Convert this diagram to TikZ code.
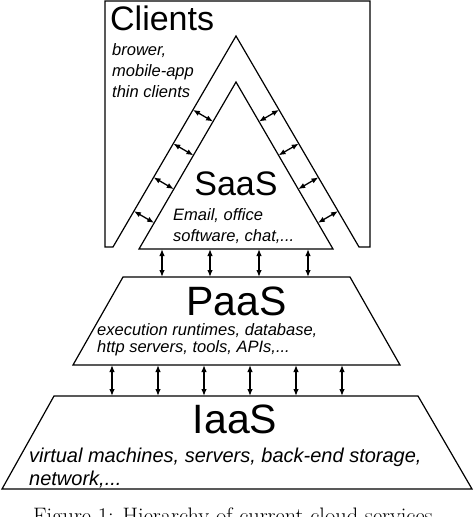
\documentclass[tikz,border=0pt]{standalone}
\usepackage{fontspec}
\newfontfamily\arial{Liberation Sans}
\usetikzlibrary{calc,arrows.meta}
\begin{document}
\begin{tikzpicture}[x=1pt,y=-1pt,
  shapeline/.style={draw=black,line width=1.2pt},
  dbl/.style={{Latex[length=7pt,width=5.5pt]}-{Latex[length=7pt,width=5.5pt]},line width=1.3pt},
  bigtitle/.style={inner sep=0pt,font=\arial\fontsize{#1}{#1}\selectfont},
  smalltxt/.style={inner sep=0pt,anchor=base west,font=\arial\itshape\fontsize{#1}{#1}\selectfont}]
\useasboundingbox (0,0) rectangle (474,517);
% Clients frame
\coordinate (cTL) at (105,1);
\coordinate (cTR) at (370,1);
\coordinate (cBR) at (370,247);
\coordinate (oR) at (359,247);
\coordinate (oA) at (236,36);
\coordinate (oL) at (113,247);
\coordinate (cBL) at (105,247);
\draw[shapeline] (cTL) -- (cTR) -- (cBR) -- (oR) -- (oA) -- (oL) -- (cBL) -- cycle;
% SaaS triangle
\coordinate (iL) at (139,249);
\coordinate (iA) at (236,82);
\coordinate (iR) at (333,249);
\draw[shapeline] (iL) -- (iA) -- (iR) -- cycle;
% PaaS trapezoid
\coordinate (pTL) at (123,277);
\coordinate (pTR) at (350,277);
\coordinate (pBR) at (400,365);
\coordinate (pBL) at (73,365);
\draw[shapeline] (pTL) -- (pTR) -- (pBR) -- (pBL) -- cycle;
% IaaS trapezoid
\coordinate (aTL) at (54,396);
\coordinate (aTR) at (418,396);
\coordinate (aBR) at (472,489);
\coordinate (aBL) at (2,489);
\draw[shapeline] (aTL) -- (aTR) -- (aBR) -- (aBL) -- cycle;
% texts
\node[bigtitle=34pt,anchor=base west] (clients) at (110,30) {Clients};
\node[smalltxt=16.5pt] (c1) at (112,55) {brower,};
\node[smalltxt=16.5pt] (c2) at (112,76) {mobile-app};
\node[smalltxt=16.5pt] (c3) at (112,97) {thin clients};
\node[bigtitle=34pt,anchor=base] (saas) at (236,195) {SaaS};
\node[smalltxt=16.5pt] (s1) at (173,220) {Email, office};
\node[smalltxt=16.5pt] (s2) at (173,241) {software, chat,...};
\node[bigtitle=41pt,anchor=base] (paas) at (236.5,315) {PaaS};
\node[smalltxt=16.5pt] (p1) at (97,335) {execution runtimes, database,};
\node[smalltxt=16.5pt] (p2) at (97,352) {http servers, tools, APIs,...};
\node[bigtitle=41pt,anchor=base] (iaas) at (235,433) {IaaS};
\node[smalltxt=20pt] (a1) at (29,462) {virtual machines, servers, back-end storage,};
\node[smalltxt=20pt] (a2) at (29,485) {network,...};
% diagonal arrows
\foreach \t [count=\i] in {0.17,0.33,0.49,0.65}{
  \coordinate (lo\i) at ($(oL)!\t!(oA)$);
  \coordinate (li\i) at ($(iL)!(lo\i)!(iA)$);
  \draw[dbl] (lo\i) -- (li\i);
  \coordinate (ro\i) at ($(oR)!\t!(oA)$);
  \coordinate (ri\i) at ($(iR)!(ro\i)!(iA)$);
  \draw[dbl] (ro\i) -- (ri\i);
}
% SaaS - PaaS arrows
\foreach \x [count=\i] in {162,210,259,308}{
  \coordinate (su\i) at (\x,249);
  \coordinate (pd\i) at (\x,277);
  \draw[dbl] (su\i) -- (pd\i);
}
% PaaS - IaaS arrows
\foreach \x [count=\i] in {112,158,204,250,296,342}{
  \coordinate (pu\i) at (\x,365);
  \coordinate (ad\i) at (\x,396);
  \draw[dbl] (pu\i) -- (ad\i);
}
% caption (cut by the page edge, as in the reference)
\begin{scope}
\clip (0,0) rectangle (474,517);
\node[inner sep=0pt,anchor=base west,font=\fontsize{22.4pt}{22.4pt}\selectfont] (cap) at (33,523) {Figure 1: Hierarchy of current cloud services};
\end{scope}
\end{tikzpicture}
\end{document}
